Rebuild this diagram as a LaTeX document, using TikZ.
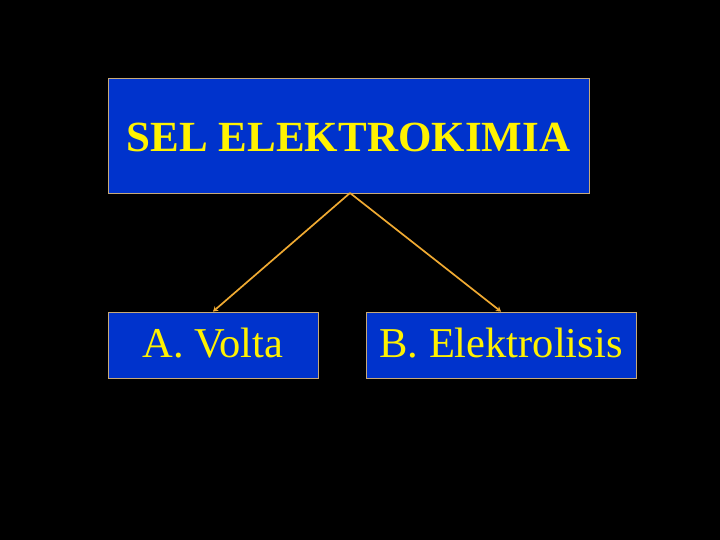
\documentclass[tikz,border=0pt]{standalone}
\usepackage{fontspec}
\setmainfont{Liberation Serif}
\usetikzlibrary{arrows.meta}
\definecolor{boxblue}{RGB}{0,51,204}
\definecolor{edgetan}{RGB}{200,170,120}
\definecolor{linkorange}{RGB}{240,170,50}
\begin{document}
\begin{tikzpicture}[x=1pt, y=-1pt, >={Stealth[length=5pt,width=6pt]},
  cell/.style={draw=edgetan, line width=0.8pt, fill=boxblue, text=yellow, inner sep=0pt},
  link/.style={draw=linkorange, line width=1.7pt, ->}]
\fill[black] (0,0) rectangle (720,540);
\useasboundingbox (0,0) rectangle (720,540);
\node[cell, minimum width=481pt, minimum height=115pt, text height=33pt, text depth=0pt,
  font=\bfseries\fontsize{43}{47}\selectfont] (sel) at (348.5,135.5) {SEL ELEKTROKIMIA};
\node[cell, minimum width=210pt, minimum height=66pt, text height=29pt, text depth=5pt,
  font=\fontsize{42.5}{46}\selectfont] (volta) at (213,345) {A. Volta};
\node[cell, minimum width=270pt, minimum height=66pt, text height=29pt, text depth=5pt,
  font=\fontsize{42.5}{46}\selectfont] (elek) at (501,345) {B. Elektrolisis};
\coordinate (top) at (350,193);
\draw[link] (top) -- (volta.north);
\draw[link] (top) -- (elek.north);
\end{tikzpicture}
\end{document}
